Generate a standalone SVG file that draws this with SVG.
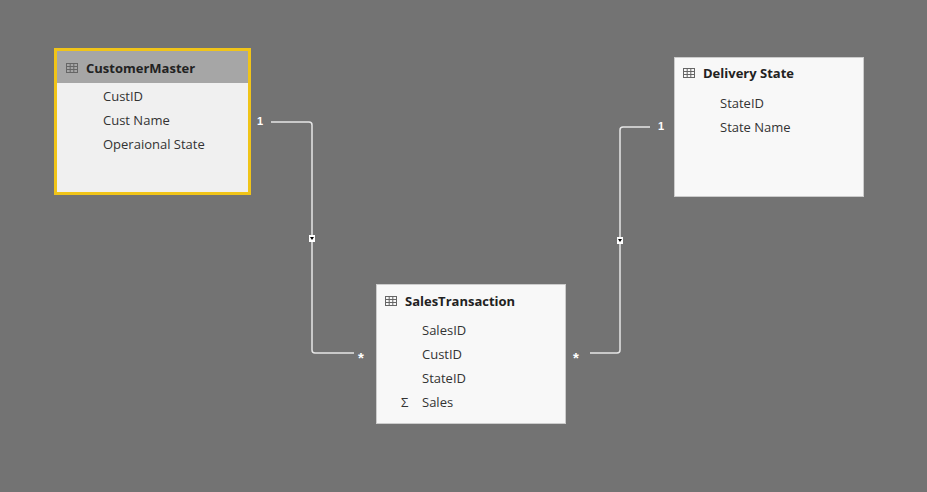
<svg xmlns="http://www.w3.org/2000/svg" width="927" height="492" viewBox="0 0 927 492">
<style>
.t{font-family:"Segoe UI","Open Sans","Liberation Sans",sans-serif;font-size:13px;fill:#333}
.h{font-family:"Open Sans","Liberation Sans",sans-serif;font-size:13px;font-weight:bold;fill:#222}
.box{fill:#f8f8f8;stroke:#ccc;stroke-width:1}
.ln{fill:none;stroke:#e6e6e6;stroke-width:1.5}
.lb{font-family:"Liberation Sans",sans-serif;font-size:11px;font-weight:bold;fill:#fff}
.st{font-family:"Liberation Sans",sans-serif;font-size:15px;font-weight:bold;fill:#fff}
.ic{fill:none;stroke:#666;stroke-width:1}
</style>
<defs>
<g id="tbl"><rect class="ic" x="0" y="0" width="11" height="9"/><path class="ic" d="M0 3H11M0 6H11M3.7 0V9M7.3 0V9"/></g>
</defs>
<rect width="927" height="492" fill="#737373"/>
<g id="connectors">
<path class="ln" d="M271 122H309Q312 122 312 125V350Q312 353 315 353H354"/>
<path class="ln" d="M590 353H617Q620 353 620 350V130Q620 127 623 127H650"/>
<rect x="309" y="235" width="6" height="7" fill="#fff"/><path d="M310 237H314L312 240Z" fill="#000"/>
<rect x="617" y="237" width="6" height="7" fill="#fff"/><path d="M618 239H622L620 242Z" fill="#000"/>
<text class="lb" x="257" y="125">1</text>
<text class="lb" x="658" y="130">1</text>
<text class="st" x="358" y="363">*</text>
<text class="st" x="573" y="363">*</text>
</g>
<g id="CustomerMaster">
<rect x="55.5" y="49.5" width="194" height="144" fill="#f0f0f0" stroke="#f0c419" stroke-width="3"/>
<rect x="57" y="51" width="191" height="32" fill="#a6a6a6"/>
<use href="#tbl" x="66.5" y="63.5"/>
<text class="h" x="86" y="73">CustomerMaster</text>
<text class="t" x="103" y="101">CustID</text>
<text class="t" x="103" y="125">Cust Name</text>
<text class="t" x="103" y="149">Operaional State</text>
</g>
<g id="DeliveryState">
<rect class="box" x="674.5" y="57.5" width="189" height="139"/>
<use href="#tbl" x="683.5" y="68.5"/>
<text class="h" x="703" y="78">Delivery State</text>
<text class="t" x="720" y="108">StateID</text>
<text class="t" x="720" y="132">State Name</text>
</g>
<g id="SalesTransaction">
<rect class="box" x="376.5" y="284.5" width="189" height="139"/>
<use href="#tbl" x="385.5" y="296.5"/>
<text class="h" x="405" y="306">SalesTransaction</text>
<text class="t" x="422" y="335">SalesID</text>
<text class="t" x="422" y="359">CustID</text>
<text class="t" x="422" y="383">StateID</text>
<text class="t" x="401" y="407" fill="#666" font-size="15">Σ</text>
<text class="t" x="422" y="407">Sales</text>
</g>
</svg>
